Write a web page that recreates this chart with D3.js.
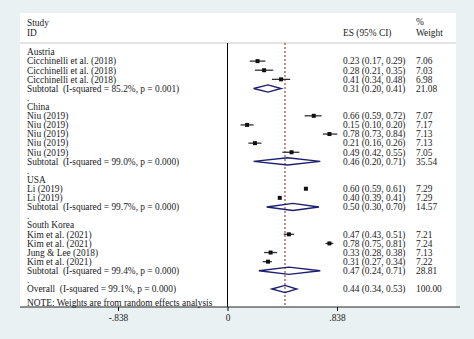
<!DOCTYPE html>
<html>
<head>
<meta charset="utf-8">
<script src="https://cdn.jsdelivr.net/npm/d3@7"></script>
<style>
  body { margin: 0; background: #e9f1f3; }
  svg { display: block; }
  text { font-family: "Liberation Serif", "Times New Roman", serif; fill: #1a1a1a; white-space: pre; }
</style>
</head>
<body>
<svg id="chart" width="474" height="339"></svg>
<script>
// ---- data ----
const rowLabels = [
  "Austria",
  "Cicchinelli et al. (2018)", "Cicchinelli et al. (2018)", "Cicchinelli et al. (2018)",
  "Subtotal  (I-squared = 85.2%, p = 0.001)", ".",
  "China",
  "Niu (2019)", "Niu (2019)", "Niu (2019)", "Niu (2019)", "Niu (2019)",
  "Subtotal  (I-squared = 99.0%, p = 0.000)", ".",
  "USA",
  "Li (2019)", "Li (2019)",
  "Subtotal  (I-squared = 99.7%, p = 0.000)", ".",
  "South Korea",
  "Kim et al. (2021)", "Kim et al. (2021)", "Jung & Lee (2018)", "Kim et al. (2021)",
  "Subtotal  (I-squared = 99.4%, p = 0.000)", ".",
  "Overall  (I-squared = 99.1%, p = 0.000)"
];
// row type: h = heading, s = study, d = diamond (pooled), b = blank dot
const rowTypes = ["h","s","s","s","d","b","h","s","s","s","s","s","d","b","h","s","s","d","b","h","s","s","s","s","d","b","d"];
const esValues = [null,0.23,0.28,0.41,0.31,null,null,0.66,0.15,0.78,0.21,0.49,0.46,null,null,0.60,0.40,0.50,null,null,0.47,0.78,0.33,0.31,0.47,null,0.44];
const ciLow    = [null,0.17,0.21,0.34,0.20,null,null,0.59,0.10,0.73,0.16,0.42,0.20,null,null,0.59,0.39,0.30,null,null,0.43,0.75,0.28,0.27,0.24,null,0.34];
const ciHigh   = [null,0.29,0.35,0.48,0.41,null,null,0.72,0.20,0.84,0.26,0.55,0.71,null,null,0.61,0.41,0.70,null,null,0.51,0.81,0.38,0.34,0.71,null,0.53];
const weights  = [null,7.06,7.03,6.98,21.08,null,null,7.07,7.17,7.13,7.13,7.05,35.54,null,null,7.29,7.29,14.57,null,null,7.21,7.24,7.13,7.22,28.81,null,100.00];
const tickValues = [-0.838, 0, 0.838];
const tickLabels = ["-.838", "0", ".838"];
const overallES = 0.44;
const noteText = "NOTE: Weights are from random effects analysis";

// ---- layout ----
const svg = d3.select("#chart");
const panel = {x: 20, y: 13, w: 436, h: 294};
const axisY = 307;
const headerLineY = 43;
const textX = 27, esX = 343, wX = 416;
const fs = 9.4;

svg.append("rect").attr("width", 474).attr("height", 339).attr("fill", "#e9f1f3");
svg.append("rect").attr("x", panel.x).attr("y", panel.y).attr("width", panel.w).attr("height", panel.h).attr("fill", "#ffffff");

const x = d3.scaleLinear().domain([-0.838, 0.838]).range([118, 337]);
const y = d3.scaleLinear().domain([0, 26]).range([52, 289]);

// header
svg.append("line").attr("x1", panel.x).attr("x2", panel.x + panel.w)
  .attr("y1", headerLineY).attr("y2", headerLineY)
  .attr("stroke", "#c8c8c8").attr("stroke-width", 1);

const hdr = [
  {t: "Study", x: textX, y: 23}, {t: "ID", x: textX, y: 33},
  {t: "ES (95% CI)", x: esX, y: 33},
  {t: "%", x: wX, y: 22}, {t: "Weight", x: wX, y: 33}
];
svg.selectAll(".hdr").data(hdr).enter().append("text")
  .attr("x", d => d.x).attr("y", d => d.y + 3.3)
  .attr("font-size", fs).text(d => d.t);

// zero line
svg.append("line").attr("x1", x(0)).attr("x2", x(0))
  .attr("y1", headerLineY).attr("y2", axisY)
  .attr("stroke", "#000").attr("stroke-width", 1);

// overall dashed line
svg.append("line").attr("x1", x(overallES)).attr("x2", x(overallES))
  .attr("y1", headerLineY).attr("y2", axisY)
  .attr("stroke", "#8b1c1c").attr("stroke-width", 1)
  .attr("stroke-dasharray", "2,2");

const rows = rowLabels.map((l, i) => ({
  label: l, type: rowTypes[i], es: esValues[i], lo: ciLow[i], hi: ciHigh[i], w: weights[i], i
}));

// labels
svg.selectAll(".lbl").data(rows).enter().append("text")
  .attr("x", textX).attr("y", d => y(d.i) + 3.3)
  .attr("font-size", fs).text(d => d.label);

// ES & weight text
const valued = rows.filter(d => d.es !== null);
svg.selectAll(".es").data(valued).enter().append("text")
  .attr("x", esX).attr("y", d => y(d.i) + 3.3).attr("font-size", fs)
  .text(d => `${d.es.toFixed(2)} (${d.lo.toFixed(2)}, ${d.hi.toFixed(2)})`);
svg.selectAll(".wt").data(valued).enter().append("text")
  .attr("x", wX).attr("y", d => y(d.i) + 3.3).attr("font-size", fs)
  .text(d => d.w.toFixed(2));

// study CIs and markers
const studies = rows.filter(d => d.type === "s");
svg.selectAll(".ci").data(studies).enter().append("line")
  .attr("x1", d => x(d.lo)).attr("x2", d => x(d.hi))
  .attr("y1", d => y(d.i)).attr("y2", d => y(d.i))
  .attr("stroke", "#333").attr("stroke-width", 1.3);
svg.selectAll(".pt").data(studies).enter().append("rect")
  .attr("x", d => x(d.es) - 2).attr("y", d => y(d.i) - 2)
  .attr("width", 4).attr("height", 4).attr("fill", "#111");

// diamonds
const diamonds = rows.filter(d => d.type === "d");
svg.selectAll(".dia").data(diamonds).enter().append("path")
  .attr("d", d => {
    const cy = y(d.i), h = 3.6;
    return `M${x(d.lo)},${cy} L${x(d.es)},${cy - h} L${x(d.hi)},${cy} L${x(d.es)},${cy + h} Z`;
  })
  .attr("fill", "none").attr("stroke", "#1c1f6e").attr("stroke-width", 1.4);

// note
svg.append("text").attr("x", textX).attr("y", y(27.5) + 3.3)
  .attr("font-size", fs).text(noteText);

// axis
const axis = d3.axisBottom(x).tickValues(tickValues)
  .tickFormat((d, i) => tickLabels[i]).tickSize(4).tickSizeOuter(0);
const g = svg.append("g").attr("transform", `translate(0,${axisY})`).call(axis);
g.select(".domain").remove();
g.selectAll(".tick line").attr("stroke", "#000");
g.selectAll(".tick text").attr("font-size", fs).attr("font-family", "Liberation Serif, serif")
  .attr("fill", "#1a1a1a").attr("dy", "0.5em").attr("y", 9);
svg.append("line").attr("x1", panel.x).attr("x2", 460)
  .attr("y1", axisY).attr("y2", axisY).attr("stroke", "#222").attr("stroke-width", 1);
</script>
</body>
</html>
